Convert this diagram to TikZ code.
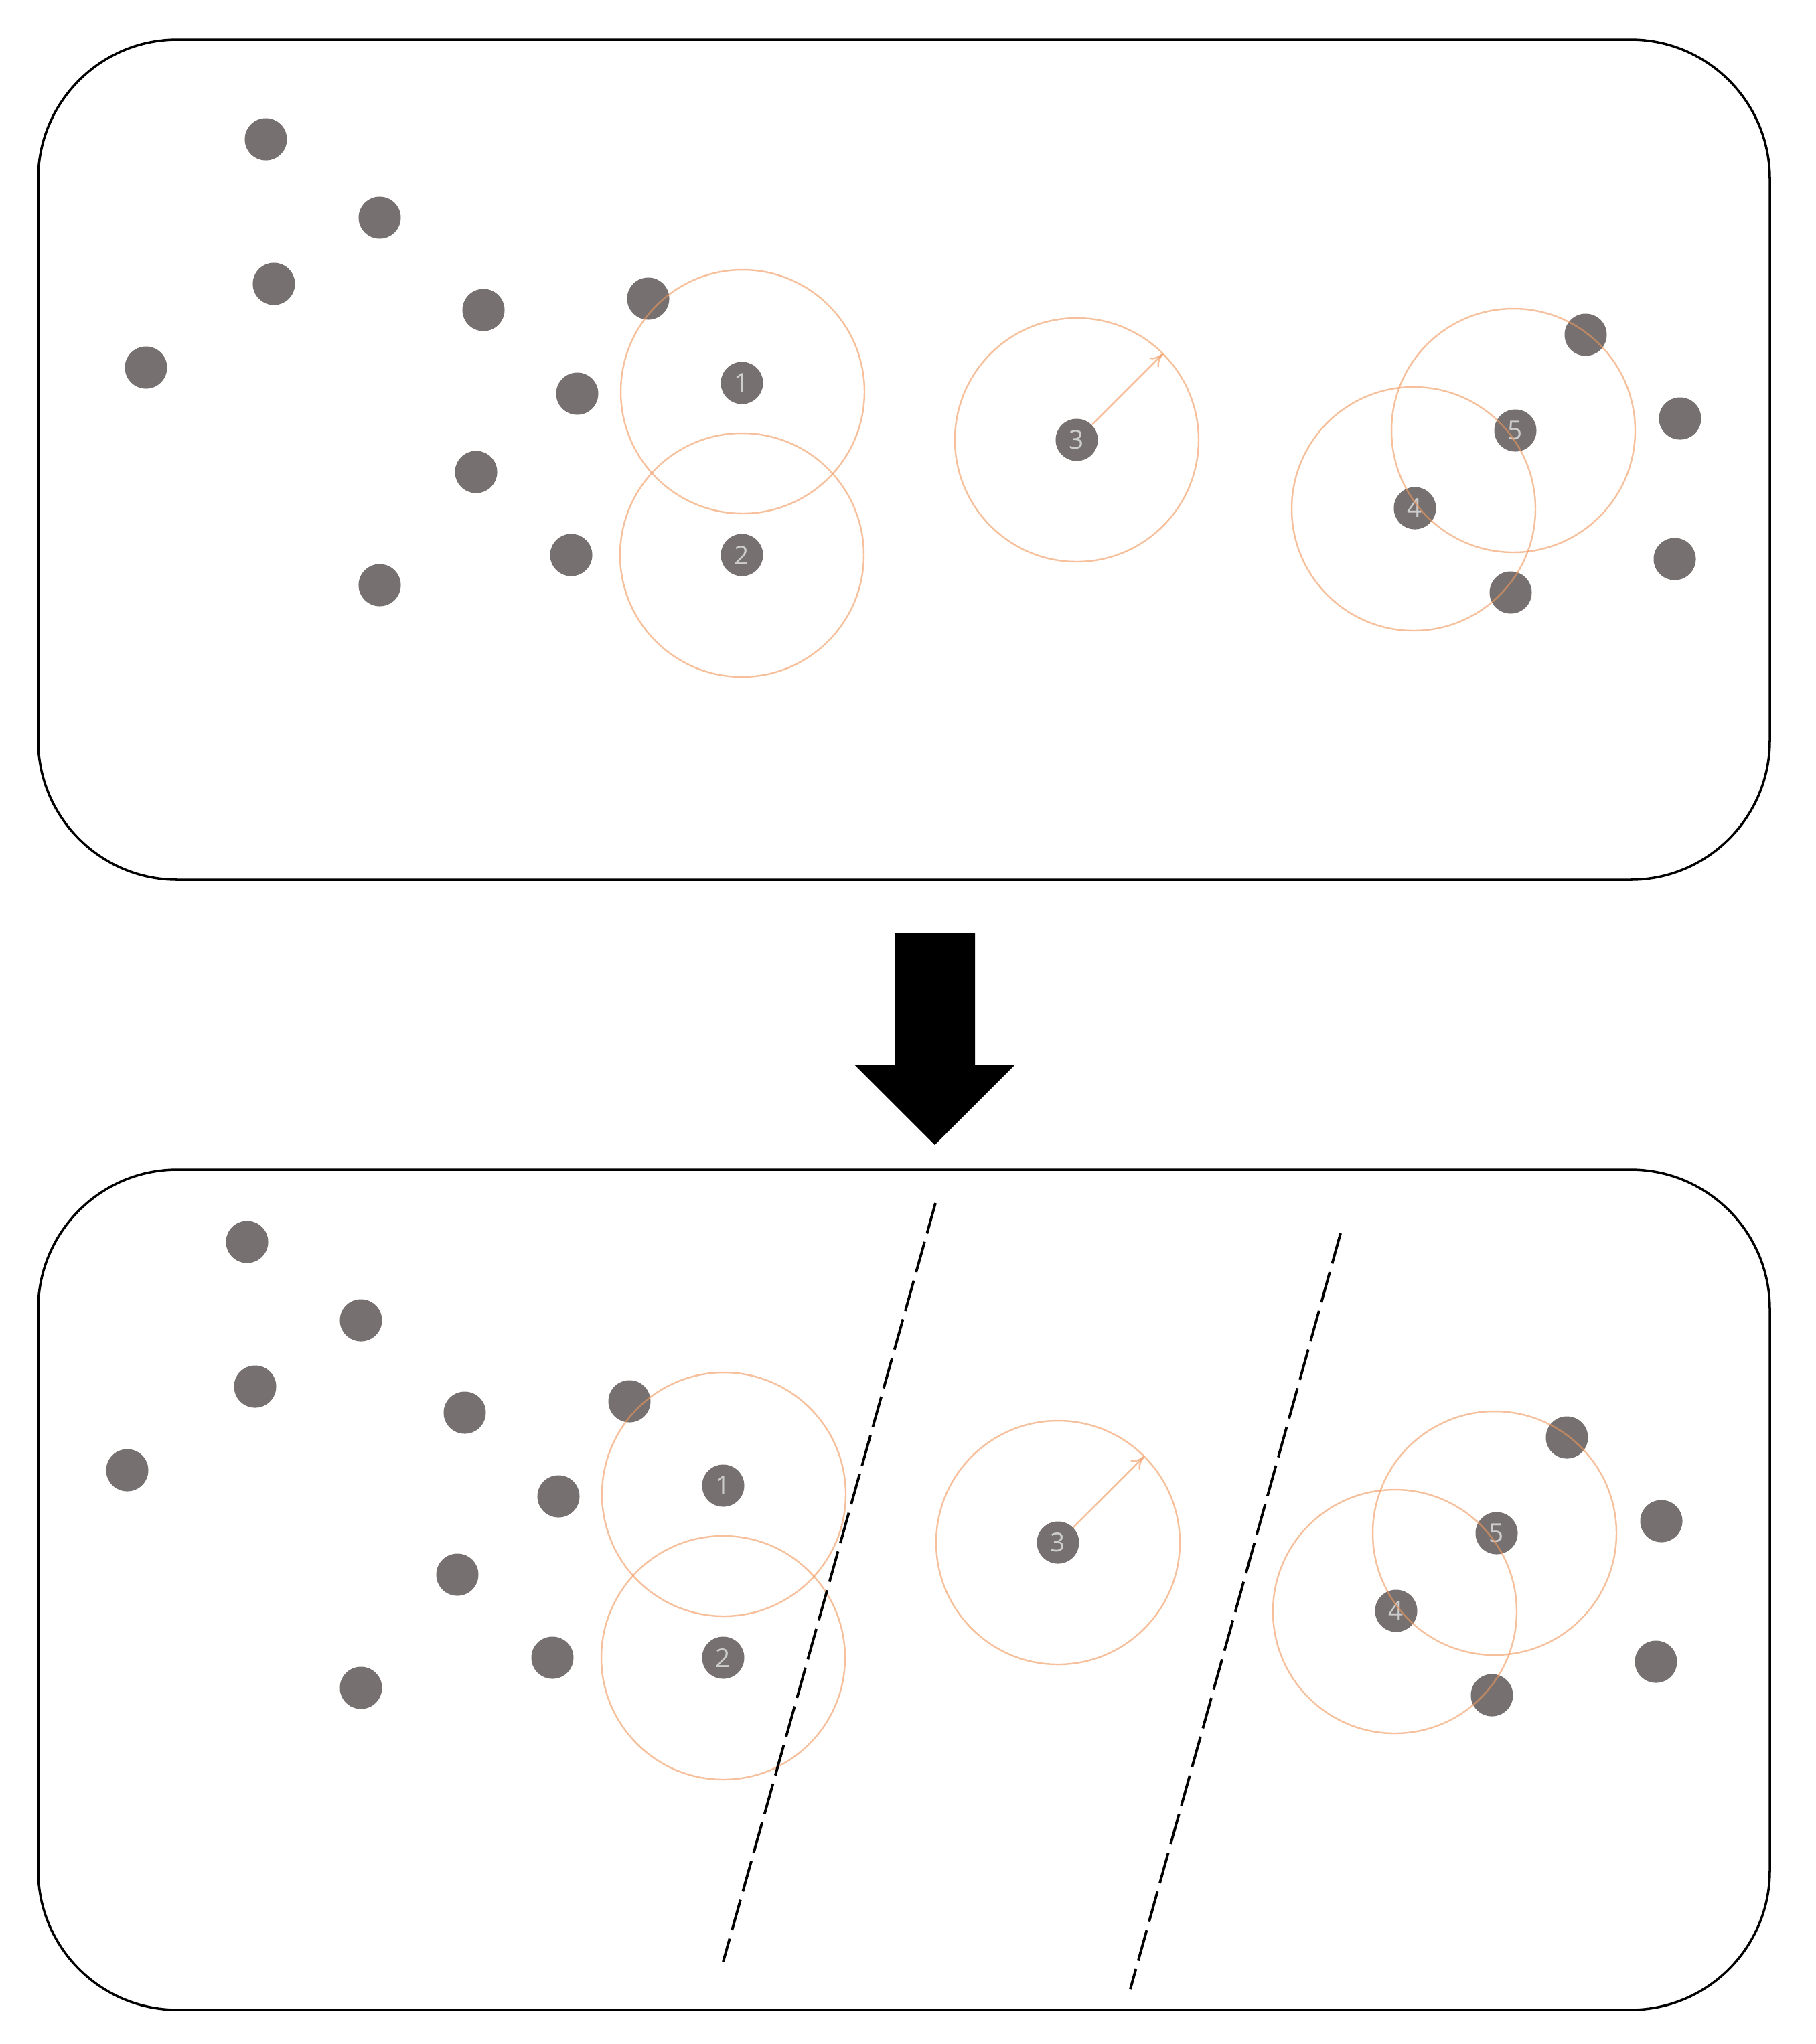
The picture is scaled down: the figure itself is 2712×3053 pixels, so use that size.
\documentclass[tikz,border=0pt]{standalone}
\usepackage{fontspec}
\newfontfamily\numfont{Open Sans}
\usetikzlibrary{arrows.meta}

\definecolor{dotgray}{RGB}{118,113,112}
\definecolor{reachorange}{RGB}{240,150,90}
\definecolor{numgray}{RGB}{205,205,205}

\begin{document}
\begin{tikzpicture}[
    x=0.01cm, y=-0.01cm,
    panel/.style={draw, line width=1pt, rounded corners=2.08cm},
    pt/.style={circle, fill=dotgray, minimum size=0.63cm, inner sep=0pt},
    core/.style={pt, text=numgray, font=\numfont\fontsize{11}{11}\selectfont},
    reach/.style={draw=reachorange, draw opacity=0.6, line width=0.7pt},
    split/.style={line width=1.1pt, dash pattern=on 0.47cm off 0.13cm}
]
\useasboundingbox (0,0) rectangle (2712,3053);

\draw[panel] (57,59) rectangle (2643,1314);
\draw[panel] (57,1747) rectangle (2643,3002);

% same point set in both panels
\foreach \pn/\dx/\dy in {a/0/0, b/-28/1647} {
  \begin{scope}[shift={(\dx,\dy)}]
    \foreach \x/\y [count=\i] in {397/208, 567/325, 409/424, 218/549, 722/463,
        968/446, 862/588, 711/705, 853/829, 567/874,
        2368/500, 2509/625, 2501/835, 2256/885} {
      \node[pt] (\pn p\i) at (\x,\y) {};
    }
    \foreach \x/\y/\k in {1108/572/1, 1108/829/2, 1608/657/3, 2113/759/4, 2263/643/5} {
      \node[core] (\pn n\k) at (\x,\y) {\k};
    }
    \foreach \x/\y in {1109/585, 1108/829, 1608/657, 2111/760, 2260/643} {
      \draw[reach] (\x,\y) circle (182);
    }
    \coordinate (\pn r3) at (1737,528);
    \draw[reach, -{To[length=0.2cm, width=0.2cm]}] (\pn n3) -- (\pn r3);
  \end{scope}
}

\fill (1336,1394) -- (1456,1394) -- (1456,1590) -- (1516,1590) -- (1396,1710)
      -- (1276,1590) -- (1336,1590) -- cycle;

\coordinate (s1top) at (1397,1797);
\coordinate (s1bot) at (1080,2930);
\coordinate (s2top) at (2002,1842);
\coordinate (s2bot) at (1688,2971);
\draw[split] (s1top) -- (s1bot);
\draw[split] (s2top) -- (s2bot);

\end{tikzpicture}
\end{document}
